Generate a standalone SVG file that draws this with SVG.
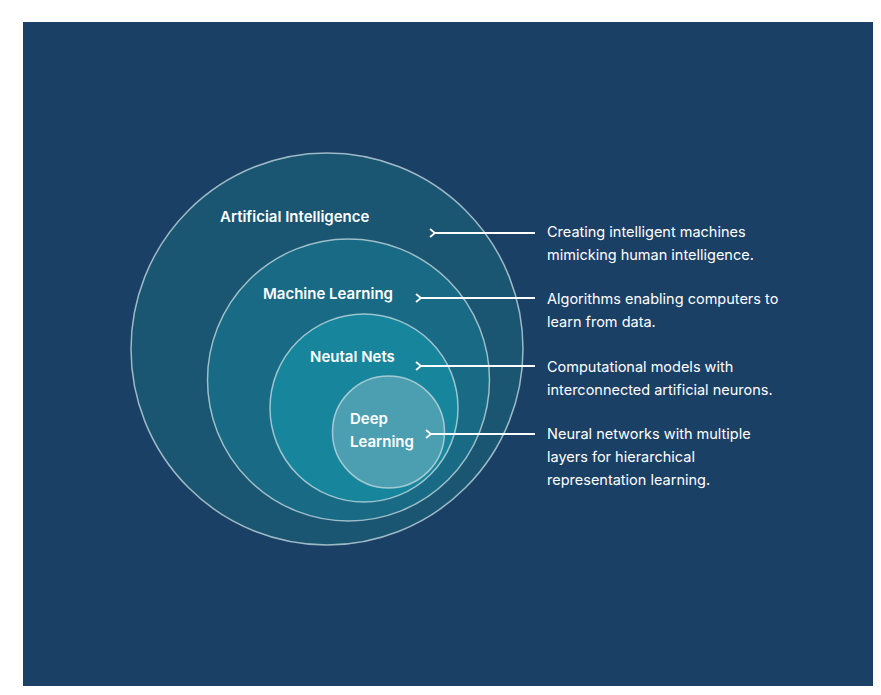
<svg xmlns="http://www.w3.org/2000/svg" width="881" height="695" viewBox="0 0 881 695">
<style>
.c{stroke:#c9dde4;stroke-opacity:0.75;stroke-width:1.5}
.l{font-family:Inter,"Liberation Sans",sans-serif;font-size:15px;font-weight:600;fill:#fff}
.d{font-family:Inter,"Liberation Sans",sans-serif;font-size:14.5px;fill:#fff}
.a{stroke:#fff;stroke-width:1.8;fill:none}
</style>
<defs><marker id="h" markerWidth="8" markerHeight="10" refX="1" refY="5" orient="auto" markerUnits="userSpaceOnUse"><path d="M6,1 L1,5 L6,9" fill="none" stroke="#fff" stroke-width="1.8"/></marker></defs>
<rect x="0" y="0" width="881" height="695" fill="#fff"/>
<rect x="23" y="22" width="850" height="664" fill="#1b4066"/>
<g id="ai"><circle class="c" cx="327" cy="349" r="196" fill="#1a5571"/><text class="l" x="220" y="222">Artificial Intelligence</text></g>
<g id="ml"><circle class="c" cx="348.5" cy="380" r="141" fill="#196a85"/><text class="l" x="263" y="299">Machine Learning</text></g>
<g id="nn"><circle class="c" cx="364" cy="408" r="94" fill="#17859b"/><text class="l" x="310" y="362">Neutal Nets</text></g>
<g id="dl"><circle class="c" cx="388.5" cy="432" r="56" fill="#4c9fb0"/><text class="l" x="350" y="424">Deep</text><text class="l" x="350" y="447">Learning</text></g>
<g id="connectors">
<line class="a" x1="535" y1="233" x2="435" y2="233" marker-end="url(#h)"/>
<line class="a" x1="535" y1="298" x2="421" y2="298" marker-end="url(#h)"/>
<line class="a" x1="535" y1="366" x2="421" y2="366" marker-end="url(#h)"/>
<line class="a" x1="535" y1="434" x2="431" y2="434" marker-end="url(#h)"/>
</g>
<g id="descs">
<text class="d" x="547" y="237">Creating intelligent machines</text>
<text class="d" x="547" y="260">mimicking human intelligence.</text>
<text class="d" x="547" y="304">Algorithms enabling computers to</text>
<text class="d" x="547" y="327">learn from data.</text>
<text class="d" x="547" y="372">Computational models with</text>
<text class="d" x="547" y="395">interconnected artificial neurons.</text>
<text class="d" x="547" y="439">Neural networks with multiple</text>
<text class="d" x="547" y="462">layers for hierarchical</text>
<text class="d" x="547" y="485">representation learning.</text>
</g>
</svg>
